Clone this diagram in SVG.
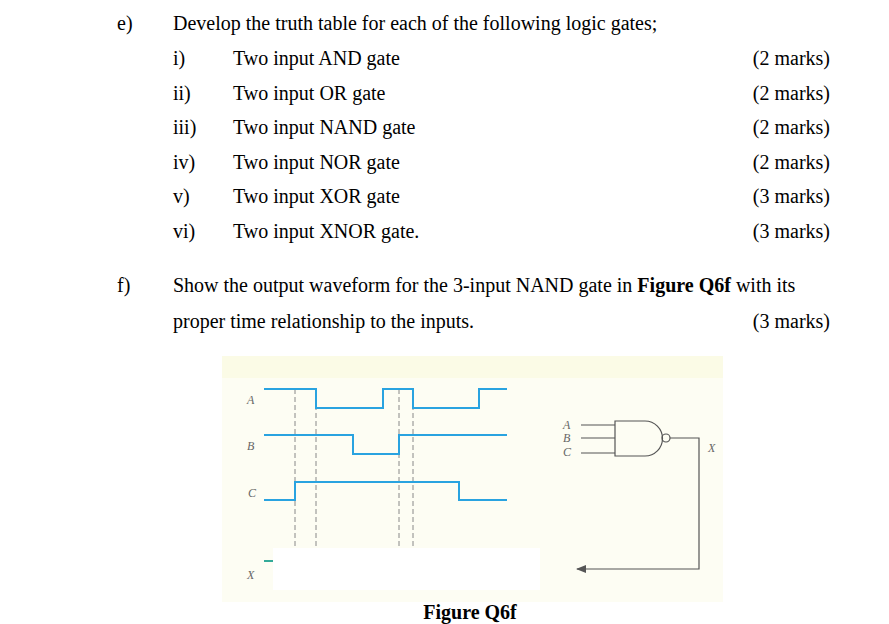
<svg xmlns="http://www.w3.org/2000/svg" width="889" height="624" viewBox="0 0 889 624">
<defs>
<style>
.t{font-family:"Liberation Serif",serif;font-size:20px;fill:#000}
.r{text-anchor:end}
.l{font-family:"Liberation Serif",serif;font-style:italic;font-size:12px;fill:#666}
.w{fill:none;stroke:#29a3e0;stroke-width:2}
.d{stroke:#888;stroke-width:1;stroke-dasharray:5,3}
.g{fill:none;stroke:#555;stroke-width:1.2}
</style>
<marker id="ah" markerWidth="10" markerHeight="8" refX="9" refY="4" orient="auto" markerUnits="userSpaceOnUse"><path d="M0,0 L10,4 L0,8 z" fill="#555"/></marker>
</defs>
<rect width="889" height="624" fill="#fff"/>
<g id="text">
<text class="t" x="117" y="30">e)</text>
<text class="t" x="173" y="30">Develop the truth table for each of the following logic gates;</text>
<text class="t" x="173" y="65">i)</text><text class="t" x="233" y="65">Two input AND gate</text><text class="t r" x="830" y="65">(2 marks)</text>
<text class="t" x="173" y="100">ii)</text><text class="t" x="233" y="100">Two input OR gate</text><text class="t r" x="830" y="100">(2 marks)</text>
<text class="t" x="173" y="134">iii)</text><text class="t" x="233" y="134">Two input NAND gate</text><text class="t r" x="830" y="134">(2 marks)</text>
<text class="t" x="173" y="169">iv)</text><text class="t" x="233" y="169">Two input NOR gate</text><text class="t r" x="830" y="169">(2 marks)</text>
<text class="t" x="173" y="203">v)</text><text class="t" x="233" y="203">Two input XOR gate</text><text class="t r" x="830" y="203">(3 marks)</text>
<text class="t" x="173" y="238">vi)</text><text class="t" x="233" y="238">Two input XNOR gate.</text><text class="t r" x="830" y="238">(3 marks)</text>
<text class="t" x="117" y="292">f)</text>
<text class="t" x="173" y="292">Show the output waveform for the 3-input NAND gate in <tspan font-weight="bold">Figure Q6f</tspan> with its</text>
<text class="t" x="173" y="328">proper time relationship to the inputs.</text><text class="t r" x="830" y="328">(3 marks)</text>
<text class="t" x="470" y="619" text-anchor="middle" font-weight="bold" font-size="18">Figure Q6f</text>
</g>
<g id="figure">
<rect x="222" y="356" width="501" height="246" fill="#fdfdf3"/>
<rect x="222" y="356" width="501" height="22" fill="#fbfbe6"/>
<line class="d" x1="295" y1="389" x2="295" y2="548"/>
<line class="d" x1="316" y1="389" x2="316" y2="548"/>
<line class="d" x1="399" y1="389" x2="399" y2="548"/>
<line class="d" x1="413" y1="389" x2="413" y2="548"/>
<polyline class="w" points="264,389 316,389 316,408 383,408 383,389 413,389 413,408 479,408 479,389 507,389"/>
<polyline class="w" points="264,435 353,435 353,454 399,454 399,435 507,435"/>
<polyline class="w" points="264,500 295,500 295,482 459,482 459,500 507,500"/>
<rect x="273" y="548" width="267" height="42" fill="#fff"/>
<line x1="264" y1="561" x2="273" y2="561" stroke="#3a9" stroke-width="2"/>
<text class="l" x="247" y="404">A</text>
<text class="l" x="247" y="450">B</text>
<text class="l" x="248" y="497">C</text>
<text class="l" x="247" y="579">X</text>
</g>
<g id="gate">
<path class="g" d="M615,421 H645 A17.5,17.5 0 0 1 645,456 H615 Z" fill="#fff"/>
<circle class="g" cx="666" cy="438" r="4" fill="#fff"/>
<text class="l" x="563" y="429" font-size="11">A</text>
<text class="l" x="563" y="442" font-size="11">B</text>
<text class="l" x="563" y="456" font-size="11">C</text>
<text class="l" x="708" y="452">X</text>
</g>
<g id="connectors">
<line class="g" x1="581" y1="425" x2="615" y2="425"/>
<line class="g" x1="581" y1="438" x2="615" y2="438"/>
<line class="g" x1="581" y1="453" x2="615" y2="453"/>
<polyline class="g" points="670,438 699,438 699,569 577,569" marker-end="url(#ah)"/>
</g>
</svg>
